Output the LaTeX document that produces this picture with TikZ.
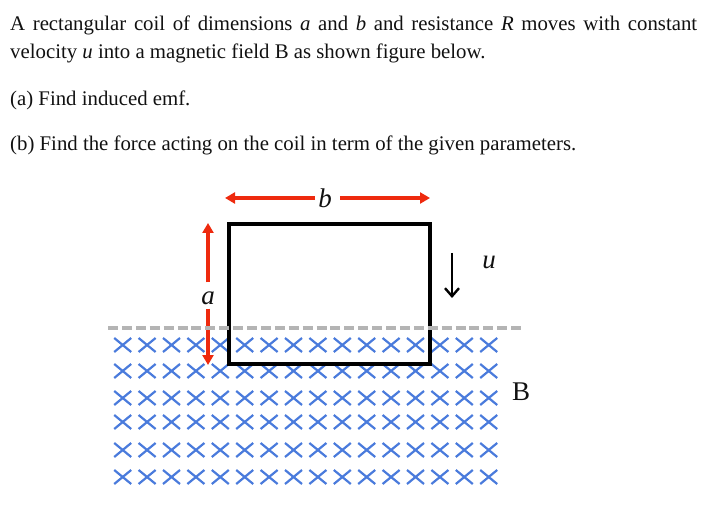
\documentclass[tikz,border=0pt]{standalone}
\usepackage{xcolor}
\usepackage{fontspec}
\setmainfont{Liberation Serif}
\usetikzlibrary{arrows.meta, positioning, calc}
\definecolor{fieldblue}{HTML}{4A7BDC}
\definecolor{arrowred}{HTML}{EE2A0E}
\definecolor{edgegray}{HTML}{B4B4B4}
\definecolor{textdark}{HTML}{111111}
\tikzset{
    problemtext/.style={anchor=west, inner sep=0pt, font=\fontsize{20.8}{28}\selectfont, text=textdark},
    symbollabel/.style={inner sep=1pt, font=\fontsize{27}{30}\selectfont\itshape, text=textdark},
    redarrow/.style={arrowred, line width=3.6pt, -{Triangle[length=10pt,width=11pt]}},
    fieldcross/.style={fieldblue, line width=2.2pt},
}
\begin{document}
\begin{tikzpicture}[x=1pt, y=1pt]
    \useasboundingbox (0,0) rectangle (703,506);

    % Problem statement
    \node[problemtext, text width=687pt, align=justify] (statement) at (10,467) {A rectangular coil of dimensions \textit{a} and \textit{b} and resistance \textit{R} moves with constant\linebreak velocity \textit{u} into a magnetic field B as shown figure below.};
    \node[problemtext] (parta) at (10,406) {(a) Find induced emf.};
    \node[problemtext] (partb) at (10,361) {(b) Find the force acting on the coil in term of the given parameters.};

    % Field crosses
    \foreach \row in {345,371,398,422,450,477} {
        \foreach \col in {0,...,15} {
            \draw[fieldcross] ({122.7+24.4*\col-8.5},{506-\row+7}) -- ++(17,-14);
            \draw[fieldcross] ({122.7+24.4*\col-8.5},{506-\row-7}) -- ++(17,14);
        }
    }

    % Coil
    \node[draw=black, line width=3.8pt, minimum width=201pt, minimum height=140pt, inner sep=0pt] (coil) at (329.5,212) {};

    % Dimension labels and arrows
    \node[symbollabel] (blabel) at (325,308) {b};
    \node[symbollabel] (alabel) at (208,208) {a};
    \coordinate (bL) at (225,309);
    \coordinate (bR) at (430,309);
    \coordinate (aT) at (208,283);
    \coordinate (aB) at (208,141);
    \draw[redarrow, shorten <=2pt] (blabel) -- (blabel -| bL);
    \draw[redarrow, shorten <=7pt] (blabel) -- (blabel -| bR);
    \draw[redarrow, shorten <=8pt] (alabel) -- (aT);
    \draw[redarrow, shorten <=3pt] (alabel) -- (aB);

    % Field edge
    \coordinate (edgeL) at (108,178);
    \coordinate (edgeR) at (521,178);
    \draw[edgegray, line width=3.4pt, dash pattern=on 10pt off 3.9pt] (edgeL) -- (edgeR);

    % Velocity
    \coordinate (uT) at (452,253);
    \coordinate (uB) at (452,208);
    \draw[black, line width=2.4pt, -{Straight Barb[length=8pt,width=14pt]}] (uT) -- (uB);
    \node[symbollabel] (ulabel) at (489,244) {u};

    % Field label
    \node[symbollabel, font=\fontsize{27}{30}\selectfont\rmfamily] (fieldlabel) at (521,114) {B};
\end{tikzpicture}
\end{document}
